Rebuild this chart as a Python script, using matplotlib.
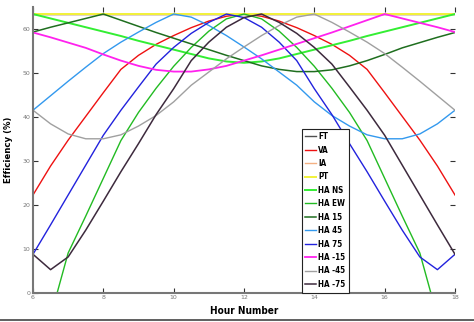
import matplotlib
matplotlib.use('Agg')
import matplotlib.pyplot as plt
from matplotlib.lines import Line2D
from matplotlib import font_manager

# 时间轴（半小时间隔）
hours = [6, 6.5, 7, 7.5, 8, 8.5, 9, 9.5, 10, 10.5, 11, 11.5, 12,
         12.5, 13, 13.5, 14, 14.5, 15, 15.5, 16, 16.5, 17, 17.5, 18]

ft = [63.4] * 25
ia = [63.4] * 25
pt = [63.4] * 25
va = [22.2, 28.8, 34.7, 40.1, 45.5, 50.8, 54.0, 56.5, 58.5, 60.3, 61.8, 62.9, 63.4,
      62.9, 61.8, 60.3, 58.5, 56.5, 54.0, 50.8, 45.5, 40.1, 34.7, 28.8, 22.2]
ha_ns = [63.4, 62.4, 61.4, 60.4, 59.4, 58.4, 57.3, 56.3, 55.3, 54.3, 53.3, 52.6, 52.3,
         52.6, 53.3, 54.3, 55.3, 56.3, 57.3, 58.4, 59.4, 60.4, 61.4, 62.4, 63.4]
ha_ew = [-22.0, -5.5, 9.0, 17.4, 26.0, 34.6, 41.0, 46.5, 51.5, 55.8, 59.5, 62.3, 63.4,
         62.3, 59.5, 55.8, 51.5, 46.5, 41.0, 34.6, 26.0, 17.4, 9.0, -5.5, -22.0]
ha_15 = [59.3, 60.4, 61.4, 62.4, 63.4, 62.0, 60.6, 59.2, 57.9, 56.6, 55.3, 54.0, 52.8,
         51.6, 50.8, 50.3, 50.3, 50.7, 51.6, 52.8, 54.2, 55.7, 56.9, 58.1, 59.2]
ha_45 = [41.5, 44.8, 48.1, 51.3, 54.4, 57.0, 59.3, 61.5, 63.4, 62.7, 60.8, 58.5, 55.9,
         53.2, 50.2, 47.2, 43.4, 40.3, 37.9, 35.9, 35.0, 35.0, 36.1, 38.4, 41.5]
ha_75 = [8.7, 15.4, 22.2, 29.0, 35.8, 41.5, 46.8, 52.0, 55.8, 59.0, 61.5, 63.4, 62.6,
         60.4, 57.0, 52.8, 46.4, 40.5, 33.9, 27.5, 20.8, 14.2, 8.1, 5.2, 8.7]
ha_m15 = [59.2, 58.1, 56.9, 55.7, 54.2, 52.8, 51.6, 50.7, 50.3, 50.3, 50.8, 51.6, 52.8,
          54.0, 55.3, 56.6, 57.9, 59.2, 60.6, 62.0, 63.4, 62.4, 61.4, 60.4, 59.3]
ha_m45 = [41.5, 38.4, 36.1, 35.0, 35.0, 35.9, 37.9, 40.3, 43.4, 47.2, 50.2, 53.2, 55.9,
          58.5, 60.8, 62.7, 63.4, 61.5, 59.3, 57.0, 54.4, 51.3, 48.1, 44.8, 41.5]
ha_m75 = [8.7, 5.2, 8.1, 14.2, 20.8, 27.5, 33.9, 40.5, 46.4, 52.8, 57.0, 60.4, 62.6,
          63.4, 61.5, 59.0, 55.8, 52.0, 46.8, 41.5, 35.8, 29.0, 22.2, 15.4, 8.7]

labels = ['FT', 'VA', 'IA', 'PT', 'HA NS', 'HA EW', 'HA 15', 'HA 45', 'HA 75',
          'HA -15', 'HA -45', 'HA -75']
series = [ft, va, ia, pt, ha_ns, ha_ew, ha_15, ha_45, ha_75, ha_m15, ha_m45, ha_m75]
colors = ['#505050', '#ee1111', '#f4b183', '#f2f23a', '#33ee33', '#22bb22', '#1f6e1f',
          '#3399ee', '#2222dd', '#ff22ee', '#a0a0a0', '#3d2a3d']
widths = [1.0, 1.0, 1.0, 1.4, 1.4, 1.0, 1.1, 1.0, 1.0, 1.3, 1.0, 1.1]

fp_leg = font_manager.FontProperties(family='DejaVu Sans', weight='bold',
                                     stretch='condensed', size=5.8)
fp_xlab = font_manager.FontProperties(family='DejaVu Sans', weight='bold',
                                      stretch='condensed', size=7.2)
fp_ylab = font_manager.FontProperties(family='DejaVu Sans', weight='bold', size=6.2)

fig = plt.figure(figsize=(4.74, 3.22), dpi=100)
ax = fig.add_axes([0.0696, 0.0916, 0.8903, 0.8866])

for y, lab, c, w in zip(series, labels, colors, widths):
    ax.plot(hours, y, color=c, lw=w, label=lab)

ax.set_xlim(6, 18)
ax.set_ylim(0, 65)
ax.set_xticks([6, 8, 10, 12, 14, 16, 18])
ax.set_yticks([0, 10, 20, 30, 40, 50, 60])

for s in ['top', 'right']:
    ax.spines[s].set_visible(False)
for s in ['left', 'bottom']:
    ax.spines[s].set_color('#777777')
    ax.spines[s].set_linewidth(1.5)

ax.tick_params(direction='in', top=True, right=True, length=3.5, width=0.8,
               color='#333333', labelsize=4.5, labelcolor='#777777', pad=2)

ax.set_xlabel('Hour Number', fontproperties=fp_xlab, labelpad=4)
ax.set_ylabel('Efficiency (%)', fontproperties=fp_ylab, labelpad=7)

leg = ax.legend(loc='lower left', bbox_to_anchor=(0.637, 0.0), prop=fp_leg,
                handlelength=1.3, handletextpad=0.3, labelspacing=0.55,
                borderpad=0.45, borderaxespad=0, fancybox=False, framealpha=1)
leg.get_frame().set_edgecolor('#222222')
leg.get_frame().set_linewidth(0.8)

# 底部边框线
fig.add_artist(Line2D([0, 1], [0.006, 0.006], transform=fig.transFigure,
                      color='#444444', lw=1.2))

fig.savefig('out.png', dpi=100)
